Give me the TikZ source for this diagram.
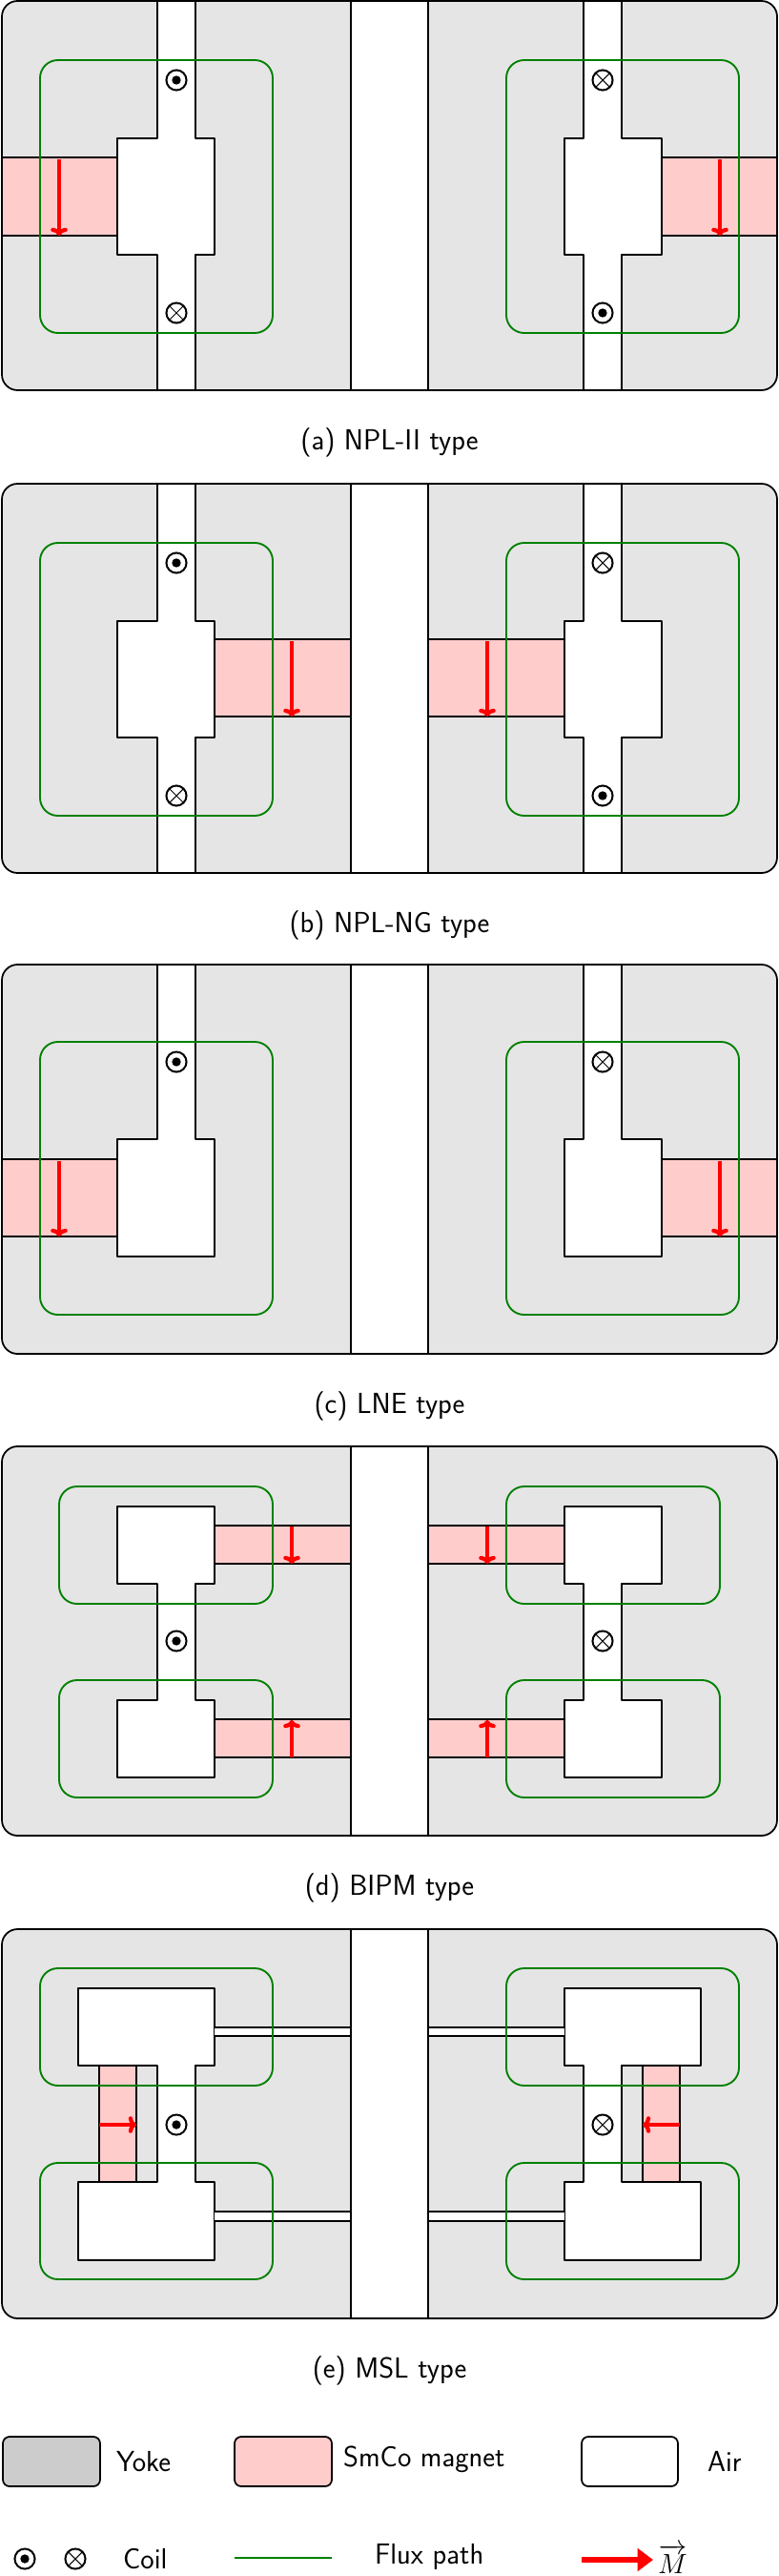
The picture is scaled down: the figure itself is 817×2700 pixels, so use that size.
\documentclass[tikz,border=0pt]{standalone}
\usepackage{amsmath}
\usetikzlibrary{arrows.meta}
\definecolor{yoke}{RGB}{229,229,229}
\definecolor{yokeL}{RGB}{204,204,204}
\definecolor{mag}{RGB}{255,204,204}
\definecolor{flux}{RGB}{0,128,0}
\begin{document}
\begin{tikzpicture}[x=0.03cm,y=-0.03cm,
  bl/.style={line width=1.5pt,line join=round},
  magf/.style={fill=mag},
  air/.style={fill=white},
  fluxp/.style={draw=flux,line width=1.6pt,rounded corners=16pt},
  mv/.style={draw=red,line width=3.6pt,-{To[length=7pt,width=15pt]}},
  captxt/.style={font=\sffamily\fontsize{26}{30}\selectfont},
  dotcoil/.pic={\draw[line width=1.7pt,fill=white] (0,0) circle (9pt); \fill (0,0) circle (4pt);},
  xcoil/.pic={\draw[line width=1.7pt,fill=white] (0,0) circle (9pt); \draw[line width=0.9pt] (-6.4pt,-6.4pt)--(6.4pt,6.4pt) (-6.4pt,6.4pt)--(6.4pt,-6.4pt);}
]
\useasboundingbox (0,0) rectangle (817,2700);
\newcommand{\outerfill}{\fill[yoke,rounded corners=14pt] (2,0) rectangle (815,408);}
\newcommand{\outerdraw}{\draw[bl,rounded corners=14pt] (2,0) rectangle (815,408);}
\newcommand{\centerstrip}{\fill[white] (368,0) rectangle (449,408); \draw[bl] (368,0)--(368,408) (449,0)--(449,408);}
% ---- half panels (left side; mirrored for right)
\newcommand{\halfA}[1]{%
  \fill[magf] (2,164) rectangle (123,246); \draw[bl] (2,164)--(123,164) (2,246)--(123,246);
  \fill[air] (165,0)--(165,144)--(123,144)--(123,266)--(165,266)--(165,408)--(205,408)--(205,266)--(225,266)--(225,144)--(205,144)--(205,0)--cycle;
  \draw[bl] (165,0)--(165,144)--(123,144)--(123,266)--(165,266)--(165,408) (205,408)--(205,266)--(225,266)--(225,144)--(205,144)--(205,0);
  \draw[fluxp] (42,62) rectangle (286,348);
  \draw[mv] (62,166)--(62,246);
  \ifnum#1=0 \pic at (185,83) {dotcoil}; \pic at (185,327) {xcoil};\else \pic at (185,83) {xcoil}; \pic at (185,327) {dotcoil};\fi}
\newcommand{\halfB}[1]{%
  \fill[magf] (225,163) rectangle (368,244); \draw[bl] (225,163)--(368,163) (225,244)--(368,244);
  \fill[air] (165,0)--(165,144)--(123,144)--(123,266)--(165,266)--(165,408)--(205,408)--(205,266)--(225,266)--(225,144)--(205,144)--(205,0)--cycle;
  \draw[bl] (165,0)--(165,144)--(123,144)--(123,266)--(165,266)--(165,408) (205,408)--(205,266)--(225,266)--(225,144)--(205,144)--(205,0);
  \draw[fluxp] (42,62) rectangle (286,348);
  \draw[mv] (306,165)--(306,244);
  \ifnum#1=0 \pic at (185,83) {dotcoil}; \pic at (185,327) {xcoil};\else \pic at (185,83) {xcoil}; \pic at (185,327) {dotcoil};\fi}
\newcommand{\halfC}[1]{%
  \fill[magf] (2,204) rectangle (123,285); \draw[bl] (2,204)--(123,204) (2,285)--(123,285);
  \fill[air] (165,0)--(165,183)--(123,183)--(123,306)--(225,306)--(225,183)--(205,183)--(205,0)--cycle;
  \draw[bl] (165,0)--(165,183)--(123,183)--(123,306)--(225,306)--(225,183)--(205,183)--(205,0);
  \draw[fluxp] (42,81) rectangle (286,367);
  \draw[mv] (62,206)--(62,285);
  \ifnum#1=0 \pic at (185,102) {dotcoil};\else \pic at (185,102) {xcoil};\fi}
\newcommand{\halfD}[1]{%
  \fill[magf] (225,83) rectangle (368,123); \draw[bl] (225,83)--(368,83) (225,123)--(368,123);
  \fill[magf] (225,286) rectangle (368,326); \draw[bl] (225,286)--(368,286) (225,326)--(368,326);
  \filldraw[bl,fill=white] (123,63)--(225,63)--(225,144)--(205,144)--(205,266)--(225,266)--(225,347)--(123,347)--(123,266)--(165,266)--(165,144)--(123,144)--cycle;
  \draw[fluxp] (62,42) rectangle (286,165);
  \draw[fluxp] (62,245) rectangle (286,368);
  \draw[mv] (306,84)--(306,123);
  \draw[mv] (306,326)--(306,287);
  \ifnum#1=0 \pic at (185,204) {dotcoil};\else \pic at (185,204) {xcoil};\fi}
\newcommand{\halfE}[1]{%
  \fill[magf] (104,143) rectangle (143,265); \draw[bl] (104,143)--(104,265) (143,143)--(143,265);
  \filldraw[bl,fill=white] (82,62)--(225,62)--(225,143)--(205,143)--(205,265)--(225,265)--(225,347)--(82,347)--(82,265)--(165,265)--(165,143)--(82,143)--cycle;
  \fill[white] (225,103) rectangle (368,112); \draw[bl] (225,103)--(368,103) (225,112)--(368,112);
  \fill[white] (225,296) rectangle (368,306); \draw[bl] (225,296)--(368,296) (225,306)--(368,306);
  \draw[fluxp] (42,41) rectangle (286,164);
  \draw[fluxp] (42,245) rectangle (286,367);
  \draw[mv] (104,205)--(143,205);
  \ifnum#1=0 \pic at (185,205) {dotcoil};\else \pic at (185,205) {xcoil};\fi}
\newcommand{\panel}[4]{%
  \begin{scope}[yshift=#1*(-0.03cm)]
    \outerfill
    #2{0}
    \begin{scope}[shift={(817,0)},xscale=-1] #2{1} \end{scope}
    \centerstrip
    \outerdraw
    \node[captxt] (#4) at (408.5,463) {#3};
  \end{scope}}
\panel{1}{\halfA}{(a) NPL-II type}{capa}
\panel{507}{\halfB}{(b) NPL-NG type}{capb}
\panel{1011}{\halfC}{(c) LNE type}{capc}
\panel{1516}{\halfD}{(d) BIPM type}{capd}
\panel{2022}{\halfE}{(e) MSL type}{cape}
% legend
\draw[bl,fill=yokeL,rounded corners=6pt] (3,2554) rectangle (105,2606);
\node[captxt,anchor=west] (lyoke) at (118,2580) {Yoke};
\draw[bl,fill=mag,rounded corners=6pt] (246,2554) rectangle (348,2606);
\node[captxt,anchor=west] (lmag) at (356,2578) {SmCo magnet};
\draw[bl,fill=white,rounded corners=6pt] (610,2554) rectangle (711,2606);
\node[captxt,anchor=west] (lair) at (738,2580) {Air};
\pic at (26,2682) {dotcoil};
\pic at (79,2682) {xcoil};
\node[captxt,anchor=west] (lcoil) at (125,2682) {Coil};
\draw[flux,line width=2pt] (246,2681)--(348,2681);
\node[captxt,anchor=west] (lflux) at (389,2680) {Flux path};
\draw[red,line width=5pt,-{Triangle[length=14pt,width=20pt]}] (610,2683)--(685,2683);
\node[font=\fontsize{26}{30}\selectfont,anchor=west] (lm) at (686,2682) {$\overrightarrow{M}$};
\end{tikzpicture}
\end{document}
